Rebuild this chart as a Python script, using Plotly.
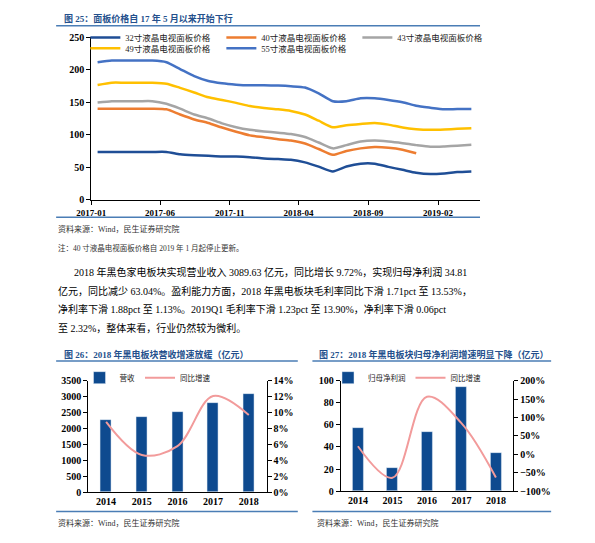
import plotly.graph_objects as go

W, H = 595, 543
OFF = 8  # the page body keeps its default 8px margin, so the figure is drawn 8px in

# ---- 图25 面板价格 ----
months = ["2017-01", "2017-02", "2017-03", "2017-04", "2017-05", "2017-06", "2017-07",
          "2017-08", "2017-09", "2017-10", "2017-11", "2017-12", "2018-01", "2018-02",
          "2018-03", "2018-04", "2018-05", "2018-06", "2018-07", "2018-08", "2018-09",
          "2018-10", "2018-11", "2018-12", "2019-01", "2019-02", "2019-03", "2019-04"]
panel_32 = [73.5, 73.5, 73.5, 73.5, 73.5, 73.5, 70, 68.5, 67.5, 66.5, 66.5, 65.5, 63.5, 62.5,
            61.5, 57.5, 51, 43.5, 51, 55.5, 55.5, 50.5, 46, 41.5, 39.5, 40.5, 42.5, 43.5]
panel_40 = [140, 140, 140, 140, 140, 139, 131, 123.5, 118, 111, 104.5, 99, 96, 93,
            91, 86.5, 78, 69, 75, 79, 81, 80, 77, 71.5, None, None, None, None]
panel_43 = [149.5, 151.5, 151.5, 151.5, 151.5, 147.5, 140, 131, 125, 117.5, 111.5, 107.5, 105, 103,
            101, 96.5, 88, 79, 84, 89.5, 91, 89.5, 87, 84, 81.5, 82, 83, 84.5]
panel_49 = [176.5, 180, 180, 180, 180, 178.5, 172, 165, 157.5, 153.5, 149, 144, 141, 139,
            136.5, 131, 121.5, 111.5, 114.5, 116.5, 118, 115.5, 111, 108.5, 107.5, 108, 109, 110]
panel_55 = [211.5, 214, 214, 214, 214, 211.5, 201, 190, 182.5, 179, 177, 176, 176, 175.5,
            174.5, 172.5, 163.5, 151.5, 151.5, 156, 156, 153.5, 150, 144.5, 141.5, 139, 139.5, 139.5]

# ---- 图26 / 图27 ----
years = ["2014", "2015", "2016", "2017", "2018"]
revenue = [2280, 2370, 2525, 2816, 3089.63]
revenue_yoy = [8.85, 4.7, 5.8, 12.1, 9.72]
profit = [57.3, 20.8, 53.5, 94.2, 34.81]
profit_yoy = [22, -64, 157, 85, -63.04]

FONT = "Liberation Serif, Noto Sans CJK SC"
TITLE_BLUE = "#24508C"
RULE_BLUE = "#4A7DB5"
BAR_BLUE = "#0E4A8F"
PINK = "#F29B9B"

FW, FH = W - OFF, H - OFF


def px(x):
    return (x - OFF) / FW


def py(y):
    return 1 - (y - OFF) / FH


fig = go.Figure()

panel_series = [
    ("32寸液晶电视面板价格", panel_32, "#1F4E96", "legend"),
    ("40寸液晶电视面板价格", panel_40, "#ED7D31", "legend"),
    ("43寸液晶电视面板价格", panel_43, "#A5A5A5", "legend"),
    ("49寸液晶电视面板价格", panel_49, "#FFC000", "legend2"),
    ("55寸液晶电视面板价格", panel_55, "#4472C4", "legend2"),
]
for name, vals, color, lg in panel_series:
    fig.add_trace(go.Scatter(
        x=[m + "-15" for m in months], y=vals, name=name, mode="lines",
        line=dict(color=color, width=2.5, shape="spline", smoothing=0.6),
        xaxis="x", yaxis="y", legend=lg, connectgaps=False))

fig.add_trace(go.Bar(x=years, y=revenue, name="营收", marker_color=BAR_BLUE, width=0.3,
                     xaxis="x2", yaxis="y2", legend="legend3"))
fig.add_trace(go.Scatter(x=years, y=revenue_yoy, name="同比增速", mode="lines",
                         line=dict(color=PINK, width=2, shape="spline", smoothing=1),
                         xaxis="x2", yaxis="y3", legend="legend3"))
fig.add_trace(go.Bar(x=years, y=profit, name="归母净利润", marker_color=BAR_BLUE, width=0.33,
                     xaxis="x3", yaxis="y4", legend="legend4"))
fig.add_trace(go.Scatter(x=years, y=profit_yoy, name="同比增速", mode="lines",
                         line=dict(color=PINK, width=2, shape="spline", smoothing=1),
                         xaxis="x3", yaxis="y5", legend="legend4"))

tick_font = dict(family=FONT, size=10, color="black", weight="bold")
axis_common = dict(showline=True, linecolor="black", linewidth=1, showgrid=False,
                   zeroline=False, ticks="outside", ticklen=4, tickcolor="black",
                   tickfont=tick_font)

legend_common = dict(orientation="h", xanchor="left", yanchor="middle",
                     bgcolor="rgba(0,0,0,0)", itemwidth=30, tracegroupgap=0,
                     font=dict(family=FONT, size=8.5, color="#222"))

fig.update_layout(
    width=FW, height=FH,
    margin=dict(l=0, r=0, t=0, b=0),
    paper_bgcolor="white", plot_bgcolor="white",
    bargap=0,
    xaxis=dict(axis_common, domain=[px(78), px(477)], anchor="y", type="date",
               range=["2017-01-01", "2019-05-04"], tick0="2017-01-01", dtick="M5",
               tickformat="%Y-%m", tickfont=dict(tick_font, size=9)),
    yaxis=dict(axis_common, domain=[py(198), py(31.7)], anchor="x", range=[0, 250], dtick=50),
    xaxis2=dict(axis_common, domain=[px(75), px(258)], anchor="y2", type="category",
                range=[-0.5, 4.5], ticks=""),
    yaxis2=dict(axis_common, domain=[py(497.3), py(383.3)], anchor="x2", range=[0, 3500], dtick=500),
    yaxis3=dict(axis_common, overlaying="y2", side="right", anchor="x2", range=[0, 14], dtick=2,
                ticksuffix="%"),
    xaxis3=dict(axis_common, domain=[px(334), px(511)], anchor="y4", type="category",
                range=[-0.5, 4.5], ticks=""),
    yaxis4=dict(axis_common, domain=[py(496), py(383.3)], anchor="x3", range=[0, 100], dtick=20),
    yaxis5=dict(axis_common, overlaying="y4", side="right", anchor="x3", range=[-100, 200], dtick=50,
                ticksuffix="%"),
    legend=dict(legend_common, x=px(72), y=py(32), entrywidth=91, entrywidthmode="pixels"),
    legend2=dict(legend_common, x=px(72), y=py(43), entrywidth=91, entrywidthmode="pixels"),
    legend3=dict(legend_common, x=px(66), y=py(380), font=dict(family=FONT, size=7.5, color="#222")),
    legend4=dict(legend_common, x=px(321), y=py(380), font=dict(family=FONT, size=7.5, color="#222")),
)

texts = [
    (48, 13, "图 25：面板价格自 17 年 5 月以来开始下行", 9, TITLE_BLUE, True),
    (42, 228, "资料来源：Wind，民生证券研究院", 8, "#333", False),
    (42, 247, "注：40 寸液晶电视面板价格自 2019 年 1 月起停止更新。", 7.5, "#333", False),
    (58, 272, "2018 年黑色家电板块实现营业收入 3089.63 亿元，同比增长 9.72%，实现归母净利润 34.81", 10, "black", False),
    (42, 291, "亿元，同比减少 63.04%。盈利能力方面，2018 年黑电板块毛利率同比下滑 1.71pct 至 13.53%，", 10, "black", False),
    (42, 310, "净利率下滑 1.88pct 至 1.13%。2019Q1 毛利率下滑 1.23pct 至 13.90%，净利率下滑 0.06pct", 10, "black", False),
    (42, 329, "至 2.32%，整体来看，行业仍然较为微利。", 10, "black", False),
    (48, 356, "图 26：2018 年黑电板块营收增速放缓（亿元）", 9, TITLE_BLUE, True),
    (310, 356, "图 27：2018 年黑电板块归母净利润增速明显下降（亿元）", 9, TITLE_BLUE, True),
    (42, 529, "资料来源：Wind，民生证券研究院", 8, "#333", False),
    (308, 529, "资料来源：Wind，民生证券研究院", 8, "#333", False),
]
for x, y, t, size, color, bold in texts:
    fig.add_annotation(x=px(x), y=py(y), xref="paper", yref="paper", text=t, showarrow=False,
                       xanchor="left", yanchor="middle",
                       font=dict(family=FONT, size=size, color=color, weight="bold" if bold else "normal"))

rules = [(42, 477, 20), (42, 477, 216), (42, 290, 363), (42, 290, 517), (305, 550, 363), (305, 550, 517)]
for x0, x1, y in rules:
    fig.add_shape(type="line", xref="paper", yref="paper", x0=px(x0), x1=px(x1), y0=py(y), y1=py(y),
                  line=dict(color=RULE_BLUE, width=1.5))

fig.write_html("out.html")
